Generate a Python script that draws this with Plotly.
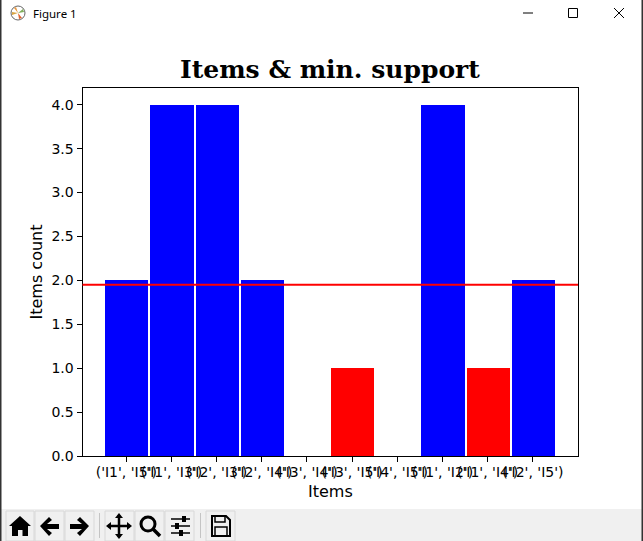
import plotly.graph_objects as go

W = 643
H = 541

ITEMS = ["('I1', 'I5')", "('I1', 'I3')", "('I2', 'I3')", "('I2', 'I4')", "('I3', 'I4')",
         "('I3', 'I5')", "('I4', 'I5')", "('I1', 'I2')", "('I1', 'I4')", "('I2', 'I5')"]
COUNTS = [2, 4, 4, 2, 0, 1, 0, 4, 1, 2]
MIN_SUPPORT = 1.95
Y_TICKS = [0, 0.5, 1, 1.5, 2, 2.5, 3, 3.5, 4]

FONT = "DejaVu Sans"


def pos(x, y):
    # window pixels to paper coordinates (margins are zero)
    return x / W, 1 - y / H


def rect(x0, y0, x1, y1, fill="rgba(0,0,0,0)", line="rgba(0,0,0,0)", width=1):
    a, b = pos(x0, y0)
    c, d = pos(x1, y1)
    return dict(type="rect", xref="paper", yref="paper", x0=a, y0=b, x1=c, y1=d,
                fillcolor=fill, line=dict(color=line, width=width), layer="below")


def circle(x0, y0, x1, y1, fill="rgba(0,0,0,0)", line="#000000", width=1):
    s = rect(x0, y0, x1, y1, fill, line, width)
    s["type"] = "circle"
    return s


def poly(points, fill="#000000", line="rgba(0,0,0,0)", width=0, closed=True):
    path = ""
    for i, (x, y) in enumerate(points):
        a, b = pos(x, y)
        path += ("M" if i == 0 else "L") + f"{a:.5f},{b:.5f} "
    if closed:
        path += "Z"
    s = dict(type="path", xref="paper", yref="paper", path=path,
             line=dict(color=line, width=width), layer="below")
    if closed:
        s["fillcolor"] = fill
    return s


def seg(x0, y0, x1, y1, color="#000000", width=1):
    return poly([(x0, y0), (x1, y1)], line=color, width=width, closed=False)


def label(x, y, text, size, family=FONT, angle=0, xanchor="center"):
    fig.add_annotation(x=x / W, y=1 - y / H, xref="paper", yref="paper", text=text, textangle=angle,
                       xanchor=xanchor, yanchor="middle", showarrow=False,
                       font=dict(family=family, size=size, color="#000000"))


colors = ["blue" if c > MIN_SUPPORT else "red" for c in COUNTS]

fig = go.Figure(go.Bar(x=ITEMS, y=COUNTS, width=0.955, marker=dict(color=colors, line=dict(width=0))))

# window chrome: borders, title bar, toolbar
shapes = [
    rect(0, 509, W, H, fill="#f0f0f0"),
    rect(0, 0, 1.5, H, fill="#333333"),
    rect(641.5, 0, W, H, fill="#333333"),
    # title bar icon
    circle(11, 6, 25, 20, fill="#ffffff", line="#666666"),
    poly([(18, 13), (14, 8), (16, 7)], fill="#e8963c"),
    poly([(18, 13), (23, 9), (24, 12)], fill="#7fae5a"),
    poly([(18, 13), (22, 18), (19, 19)], fill="#e0622e"),
    poly([(18, 13), (12, 15), (12, 12)], fill="#d9a441"),
    # minimize, maximize, close
    seg(523, 13, 533, 13),
    rect(568.5, 8.5, 577.5, 17.5, line="#000000"),
    seg(614, 8, 624, 18),
    seg(624, 8, 614, 18),
    # toolbar separators
    seg(99.5, 513, 99.5, 538, color="#c4c4c4"),
    seg(200.5, 513, 200.5, 538, color="#c4c4c4"),
]

# toolbar buttons
for x0, x1 in [(6, 34), (35, 64), (65, 94), (105, 134), (135, 164), (165, 194), (206, 235)]:
    shapes.append(rect(x0, 511, x1, H, fill="#f0f0f0", line="#d8d8d8"))

# home
shapes.append(poly([(20, 516), (31, 526), (28, 526), (28, 536), (22.5, 536), (22.5, 530), (18, 530),
                    (18, 536), (12, 536), (12, 526), (9, 526)]))
# back, forward
shapes.append(poly([(40, 526), (49, 517), (52, 520), (47, 524), (59, 524), (59, 529), (47, 529), (52, 533), (49, 536)]))
shapes.append(poly([(89, 526), (80, 517), (77, 520), (82, 524), (70, 524), (70, 529), (82, 529), (77, 533), (80, 536)]))
# move
shapes += [
    seg(108, 526, 130, 526, width=2.5),
    seg(119, 515, 119, 537, width=2.5),
    poly([(119, 513), (123, 518), (115, 518)]),
    poly([(119, 539), (123, 534), (115, 534)]),
    poly([(106, 526), (111, 522), (111, 530)]),
    poly([(132, 526), (127, 522), (127, 530)]),
]
# zoom
shapes += [
    circle(141, 517, 155, 531, line="#000000", width=3),
    seg(153, 529, 160, 536, width=3.5),
]
# sliders
shapes += [
    seg(171, 519, 190, 519, width=1.5),
    seg(171, 526, 190, 526, width=1.5),
    seg(171, 533, 190, 533, width=1.5),
    rect(182, 516, 186, 522, fill="#000000"),
    rect(175, 523, 179, 529, fill="#000000"),
    rect(179, 530, 183, 536, fill="#000000"),
]
# save
shapes += [
    poly([(212, 516), (226, 516), (230, 520), (230, 536), (212, 536)], fill="#f0f0f0", line="#000000", width=2),
    rect(215, 516, 225, 522, line="#000000", width=1.5),
    rect(215, 527, 227, 536, line="#000000", width=1.5),
]

fig.update_layout(
    width=W,
    height=H,
    margin=dict(l=0, r=0, t=0, b=0),
    paper_bgcolor="white",
    plot_bgcolor="white",
    showlegend=False,
    bargap=0,
    font=dict(family=FONT, size=14, color="#000000"),
    shapes=shapes,
    xaxis=dict(
        domain=[82.5 / W, 578 / W],
        type="category",
        categoryorder="array",
        categoryarray=ITEMS,
        range=[-0.97, 10.0],
        tickmode="array",
        tickvals=ITEMS,
        ticktext=ITEMS,
        tickangle=0,
        ticks="outside",
        ticklen=5,
        tickwidth=1,
        tickcolor="#000000",
        ticklabelstandoff=-2,
        showgrid=False,
        zeroline=False,
        showline=True,
        mirror=True,
        linecolor="#000000",
        linewidth=1,
        automargin=False,
    ),
    yaxis=dict(
        domain=[1 - 456 / H, 1 - 88 / H],
        range=[0, 4.19],
        tickmode="array",
        tickvals=Y_TICKS,
        tickformat=".1f",
        ticks="outside",
        ticklen=5,
        tickwidth=1,
        tickcolor="#000000",
        showgrid=False,
        zeroline=False,
        showline=True,
        mirror=True,
        linecolor="#000000",
        linewidth=1,
        automargin=False,
    ),
)

fig.add_hline(y=MIN_SUPPORT, line=dict(color="red", width=2), layer="above")

# texts placed at window pixels
label(330, 70, "<b>Items &amp; min. support</b>", 25, family="DejaVu Serif")
label(330, 491.5, "Items", 16)
label(35.5, 272, "Items count", 16, angle=-90)
label(31, 14, "Figure 1", 11.5, family="Noto Sans", xanchor="left")

fig.write_html("out.html", config={"displayModeBar": False},
               post_script="document.body.style.margin='0';document.body.style.overflow='hidden';")
